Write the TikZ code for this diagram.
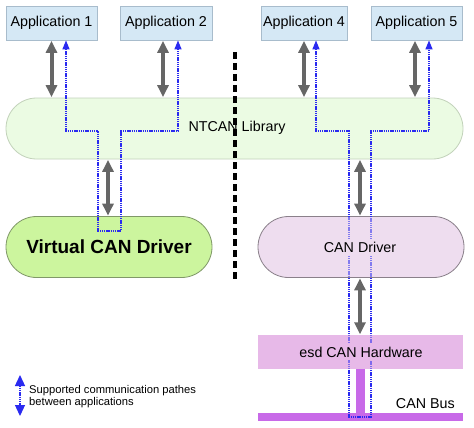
\documentclass[tikz,border=0pt]{standalone}
\usepackage{fontspec}
\setmainfont{Liberation Sans}
\usetikzlibrary{arrows.meta,calc}
\definecolor{appfill}{HTML}{D5E8F5}
\definecolor{appdraw}{HTML}{A8BCCC}
\definecolor{ntfill}{HTML}{EBFBE3}
\definecolor{ntdraw}{HTML}{C2D2BA}
\definecolor{vfill}{HTML}{CCF59E}
\definecolor{vdraw}{HTML}{809868}
\definecolor{cdfill}{HTML}{EEDDEF}
\definecolor{cddraw}{HTML}{8A808A}
\definecolor{hwfill}{HTML}{E7B9E8}
\definecolor{busfill}{HTML}{C86AE8}
\definecolor{arrgray}{HTML}{666666}
\definecolor{pathblue}{HTML}{2A2AF0}
\tikzset{
  appbox/.style={draw=appdraw, fill=appfill, line width=0.8pt, minimum height=34pt, inner sep=0pt, font=\fontsize{14.3}{16}\selectfont},
  pill/.style={rectangle, rounded corners=30.5pt, line width=0.8pt, minimum height=61pt, inner sep=0pt},
  grayarrow/.style={draw=arrgray, line width=4pt, {Triangle[length=12pt,width=11pt]}-{Triangle[length=12pt,width=11pt]}, shorten <=0.5pt, shorten >=0.5pt},
  bluepath/.style={draw=pathblue, line width=1.3pt, dash pattern=on 1.3pt off 0.9pt, {Triangle[length=9pt,width=7pt]}-{Triangle[length=9pt,width=7pt]}},
  lbl/.style={font=\fontsize{14.3}{16}\selectfont, inner sep=3pt}
}
\begin{document}
\begin{tikzpicture}[x=1pt,y=-1pt]
\useasboundingbox (0,0) rectangle (474,428);
% application boxes
\node[appbox, minimum width=91pt] (app1) at (51.5,23) {Application 1};
\node[appbox, minimum width=92pt] (app2) at (166,23) {Application 2};
\node[appbox, minimum width=86pt] (app4) at (304,23) {Application 4};
\node[appbox, minimum width=91pt] (app5) at (416.5,23) {Application 5};
% NTCAN library
\node[pill, draw=ntdraw, fill=ntfill, minimum width=457pt] (ntcan) at (234.5,128.5) {};
\node[lbl] (ntlbl) at (237,128) {NTCAN Library};
% drivers
\node[pill, draw=vdraw, fill=vfill, minimum width=206pt, font=\bfseries\fontsize{19}{22}\selectfont] (virt) at (109,247) {Virtual CAN Driver};
\node[pill, draw=cddraw, fill=cdfill, minimum width=206pt] (candrv) at (361,247) {};
% hardware and bus
\node[rectangle, fill=hwfill, minimum width=205pt, minimum height=34pt, inner sep=0pt] (hw) at (360.5,352) {};
\node[rectangle, fill=busfill, minimum width=205pt, minimum height=8pt, inner sep=0pt] (bus) at (360.5,417) {};
\node[rectangle, fill=busfill, minimum width=9pt, minimum height=44pt, inner sep=0pt] (stub) at (360.5,391) {};
% divider
\coordinate (divtop) at (235,52);
\coordinate (divbot) at (235,280);
\draw[black, line width=3.2pt, dash pattern=on 7pt off 4pt] (divtop) -- (divbot);
% gray arrows
\draw[grayarrow] (app1.south) -- (app1.south |- ntcan.north);
\draw[grayarrow] ([xshift=-3pt]app2.south) -- ([xshift=-3pt]app2.south |- ntcan.north);
\draw[grayarrow] (app4.south) -- (app4.south |- ntcan.north);
\draw[grayarrow] ([xshift=-1.5pt]app5.south) -- ([xshift=-1.5pt]app5.south |- ntcan.north);
\draw[grayarrow] ([xshift=-1pt]virt.north |- ntcan.south) -- ([xshift=-1pt]virt.north);
\draw[grayarrow] ([xshift=-1pt]candrv.north |- ntcan.south) -- ([xshift=-1pt]candrv.north);
\draw[grayarrow] ([xshift=-1pt]candrv.south) -- ([xshift=-1pt]candrv.south |- hw.north);
% blue communication paths
\draw[bluepath] ([xshift=14.5pt]app1.south) -- (66,131) -- (98,131) -- (98,231) -- (121,231) -- (121,131) -- (178,131) -- ([xshift=12pt]app2.south);
\draw[bluepath] ([xshift=12pt]app4.south) -- (316,131) -- (349,131) -- (349,417) -- (371,417) -- (371,131) -- (429,131) -- ([xshift=12.5pt]app5.south);
% overlays so that paths look lighter in pink parts
\fill[cdfill, fill opacity=0.45] ([xshift=-20pt,yshift=-30pt]candrv.center) rectangle ([xshift=20pt,yshift=30pt]candrv.center);
\fill[hwfill, fill opacity=0.45] (hw.north west) rectangle (hw.south east);
\node[lbl, fill=cdfill] (cdlbl) at (360,247) {CAN Driver};
\node[lbl, fill=hwfill] (hwlbl) at (361,352) {esd CAN Hardware};
\node[lbl, anchor=east] (buslbl) at (458,404) {CAN Bus};
% legend
\coordinate (legtop) at (20,375);
\coordinate (legbot) at (20,416);
\draw[draw=pathblue, line width=1.3pt, dash pattern=on 1.3pt off 0.9pt, {Triangle[length=11pt,width=10pt]}-{Triangle[length=11pt,width=10pt]}] (legtop) -- (legbot);
\node[anchor=west, align=left, inner sep=0pt, font=\fontsize{11.2}{12}\selectfont] (legtxt) at (29,397) {Supported communication pathes\\between applications};
\end{tikzpicture}
\end{document}
